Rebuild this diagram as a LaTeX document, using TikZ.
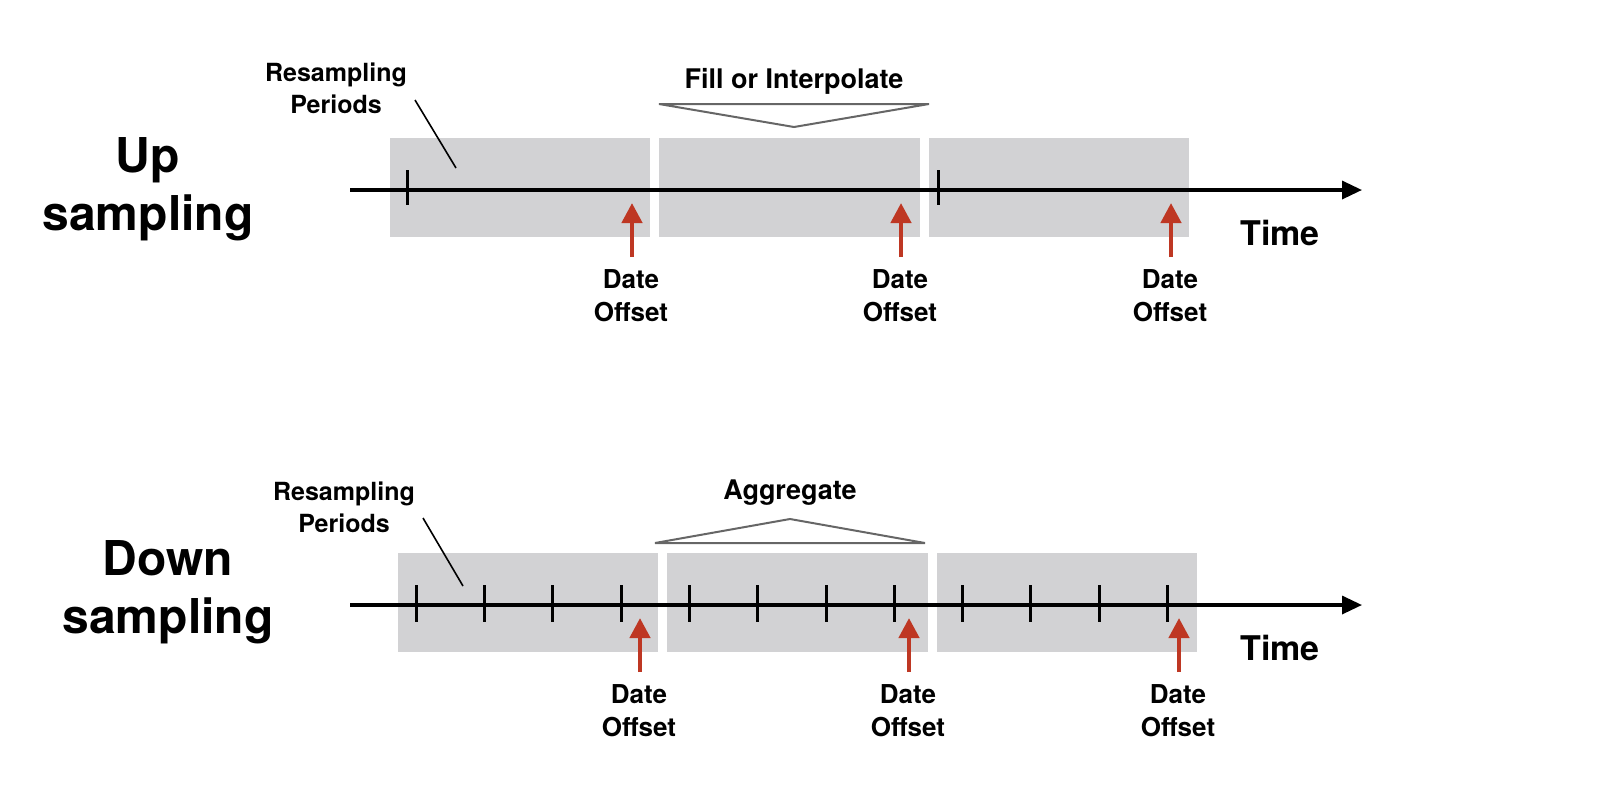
\documentclass[tikz,border=0pt]{standalone}
\usepackage{fontspec}
\setmainfont{TeX Gyre Heros}
\usetikzlibrary{arrows.meta}
\definecolor{per}{RGB}{210,210,212}
\definecolor{red1}{RGB}{190,55,35}
\begin{document}
\begin{tikzpicture}[x=0.5pt,y=-0.5pt,
  per/.style={fill=per,draw=none},
  axis/.style={line width=1.7pt,-{Triangle[length=10pt,width=9pt]}},
  tick/.style={line width=1.5pt},
  red/.style={draw=red1,line width=2.2pt,-{Triangle[length=10pt,width=10pt]}},
  lab/.style={font=\bfseries\fontsize{13}{16.5}\selectfont,align=center},
  big/.style={font=\bfseries\fontsize{24}{29}\selectfont,align=center},
  time/.style={font=\bfseries\fontsize{17}{20}\selectfont},
  rp/.style={font=\bfseries\fontsize{12.5}{16}\selectfont,align=center},
  tri/.style={draw=gray!80!black,line width=1pt}]
\useasboundingbox (0,0) rectangle (1600,810);
\foreach \dy/\xo/\nm in {0/0/u,415/8/d}{
 \begin{scope}[yshift=-\dy*0.5pt]
  \fill[per] (390+\xo,138) rectangle (650+\xo,237);
  \fill[per] (659+\xo,138) rectangle (920+\xo,237);
  \fill[per] (929+\xo,138) rectangle (1189+\xo,237);
  \coordinate (\nm s) at (350,190); \coordinate (\nm e) at (1362,190);
  \draw[axis] (\nm s) -- (\nm e);
  \node[time] (\nm t) at (1280,233) {Time};
  \foreach \x [count=\i] in {632,901,1171}{
    \coordinate (\nm a\i) at (\x+\xo,257); \coordinate (\nm b\i) at (\x+\xo,203);
    \draw[red] (\nm a\i) -- (\nm b\i);
    \node[lab] (\nm l\i) at (\x-1+\xo,296) {Date\\Offset};}
 \end{scope}}
% up
\foreach \x in {407,938}{\draw[tick] (\x,170) -- (\x,205);}
\node[big] (up) at (148,189) {Up\\sampling};
\node[rp] (urp) at (336,88) {Resampling\\Periods};
\coordinate (ur1) at (415,100); \coordinate (ur2) at (456,168);
\draw[line width=0.8pt] (ur1) -- (ur2);
\node[rp,font=\bfseries\fontsize{13.5}{16}\selectfont] (fi) at (794,81) {Fill or Interpolate};
\coordinate (t1) at (659,104); \coordinate (t2) at (929,104); \coordinate (t3) at (794,127);
\draw[tri] (t1) -- (t2) -- (t3) -- cycle;
% down
\foreach \x in {416,484,552,621,689,757,826,894,962,1030,1099,1167}{\draw[tick] (\x,585) -- (\x,622);}
\node[big] (down) at (168,592) {Down\\sampling};
\node[rp] (drp) at (344,507) {Resampling\\Periods};
\coordinate (dr1) at (423,518); \coordinate (dr2) at (463,586);
\draw[line width=0.8pt] (dr1) -- (dr2);
\node[rp,font=\bfseries\fontsize{13.5}{16}\selectfont] (ag) at (790,493) {Aggregate};
\coordinate (s1) at (655,543); \coordinate (s2) at (925,543); \coordinate (s3) at (790,519);
\draw[tri] (s1) -- (s2) -- (s3) -- cycle;
\end{tikzpicture}
\end{document}
